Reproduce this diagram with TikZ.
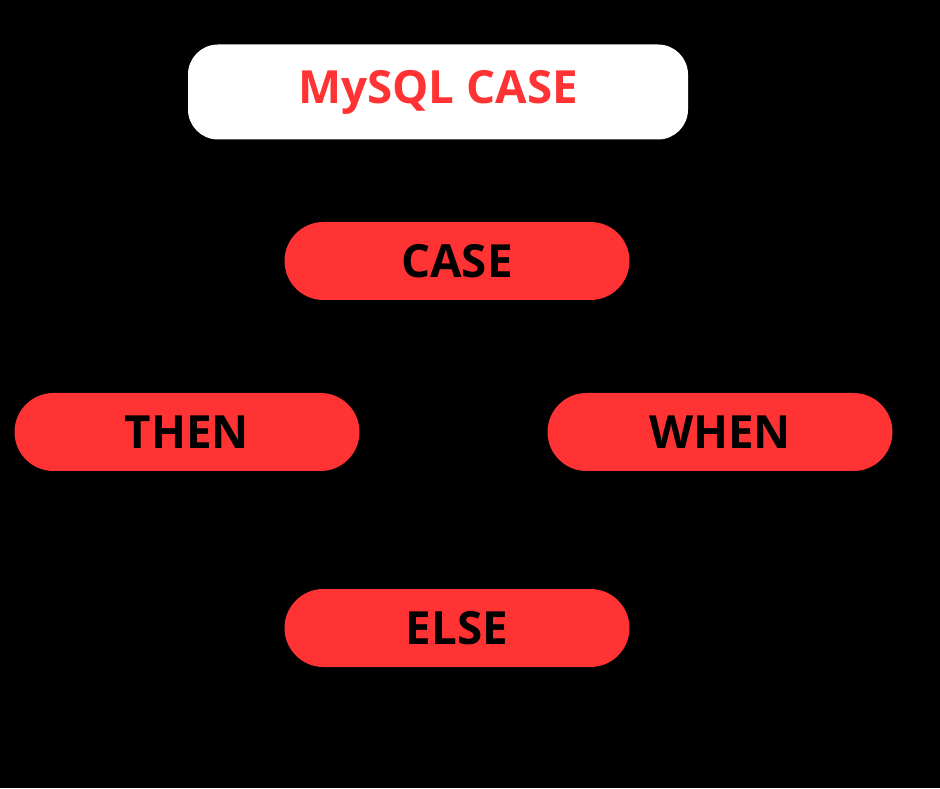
\documentclass[tikz,border=0pt]{standalone}
\usepackage{fontspec}
\setmainfont{Open Sans}
\usetikzlibrary{positioning}
\definecolor{pillred}{HTML}{FF3333}
\tikzset{
  pill/.style={fill=pillred, rounded corners=0.78cm, minimum width=6.9cm, minimum height=1.56cm,
    font=\fontsize{26}{30}\selectfont\bfseries, text=black, inner sep=0pt},
  titlebox/.style={fill=white, rounded corners=0.6cm, minimum width=10cm, minimum height=1.9cm,
    font=\fontsize{26}{30}\selectfont\bfseries, text=pillred, inner sep=0pt}
}
\begin{document}
\begin{tikzpicture}
\fill[black] (0,0) rectangle (18.8,15.76);
\useasboundingbox (0,0) rectangle (18.8,15.76);

\node[titlebox] (title) at (8.76, 13.92) {MySQL CASE};
\node[pill] (case) at (9.14, 10.54) {CASE};
\node[pill] (then) at (3.74, 7.12) {THEN};
\node[pill] (when) at (14.4, 7.12) {WHEN};
\node[pill] (else) at (9.14, 3.20) {ELSE};

\end{tikzpicture}
\end{document}
